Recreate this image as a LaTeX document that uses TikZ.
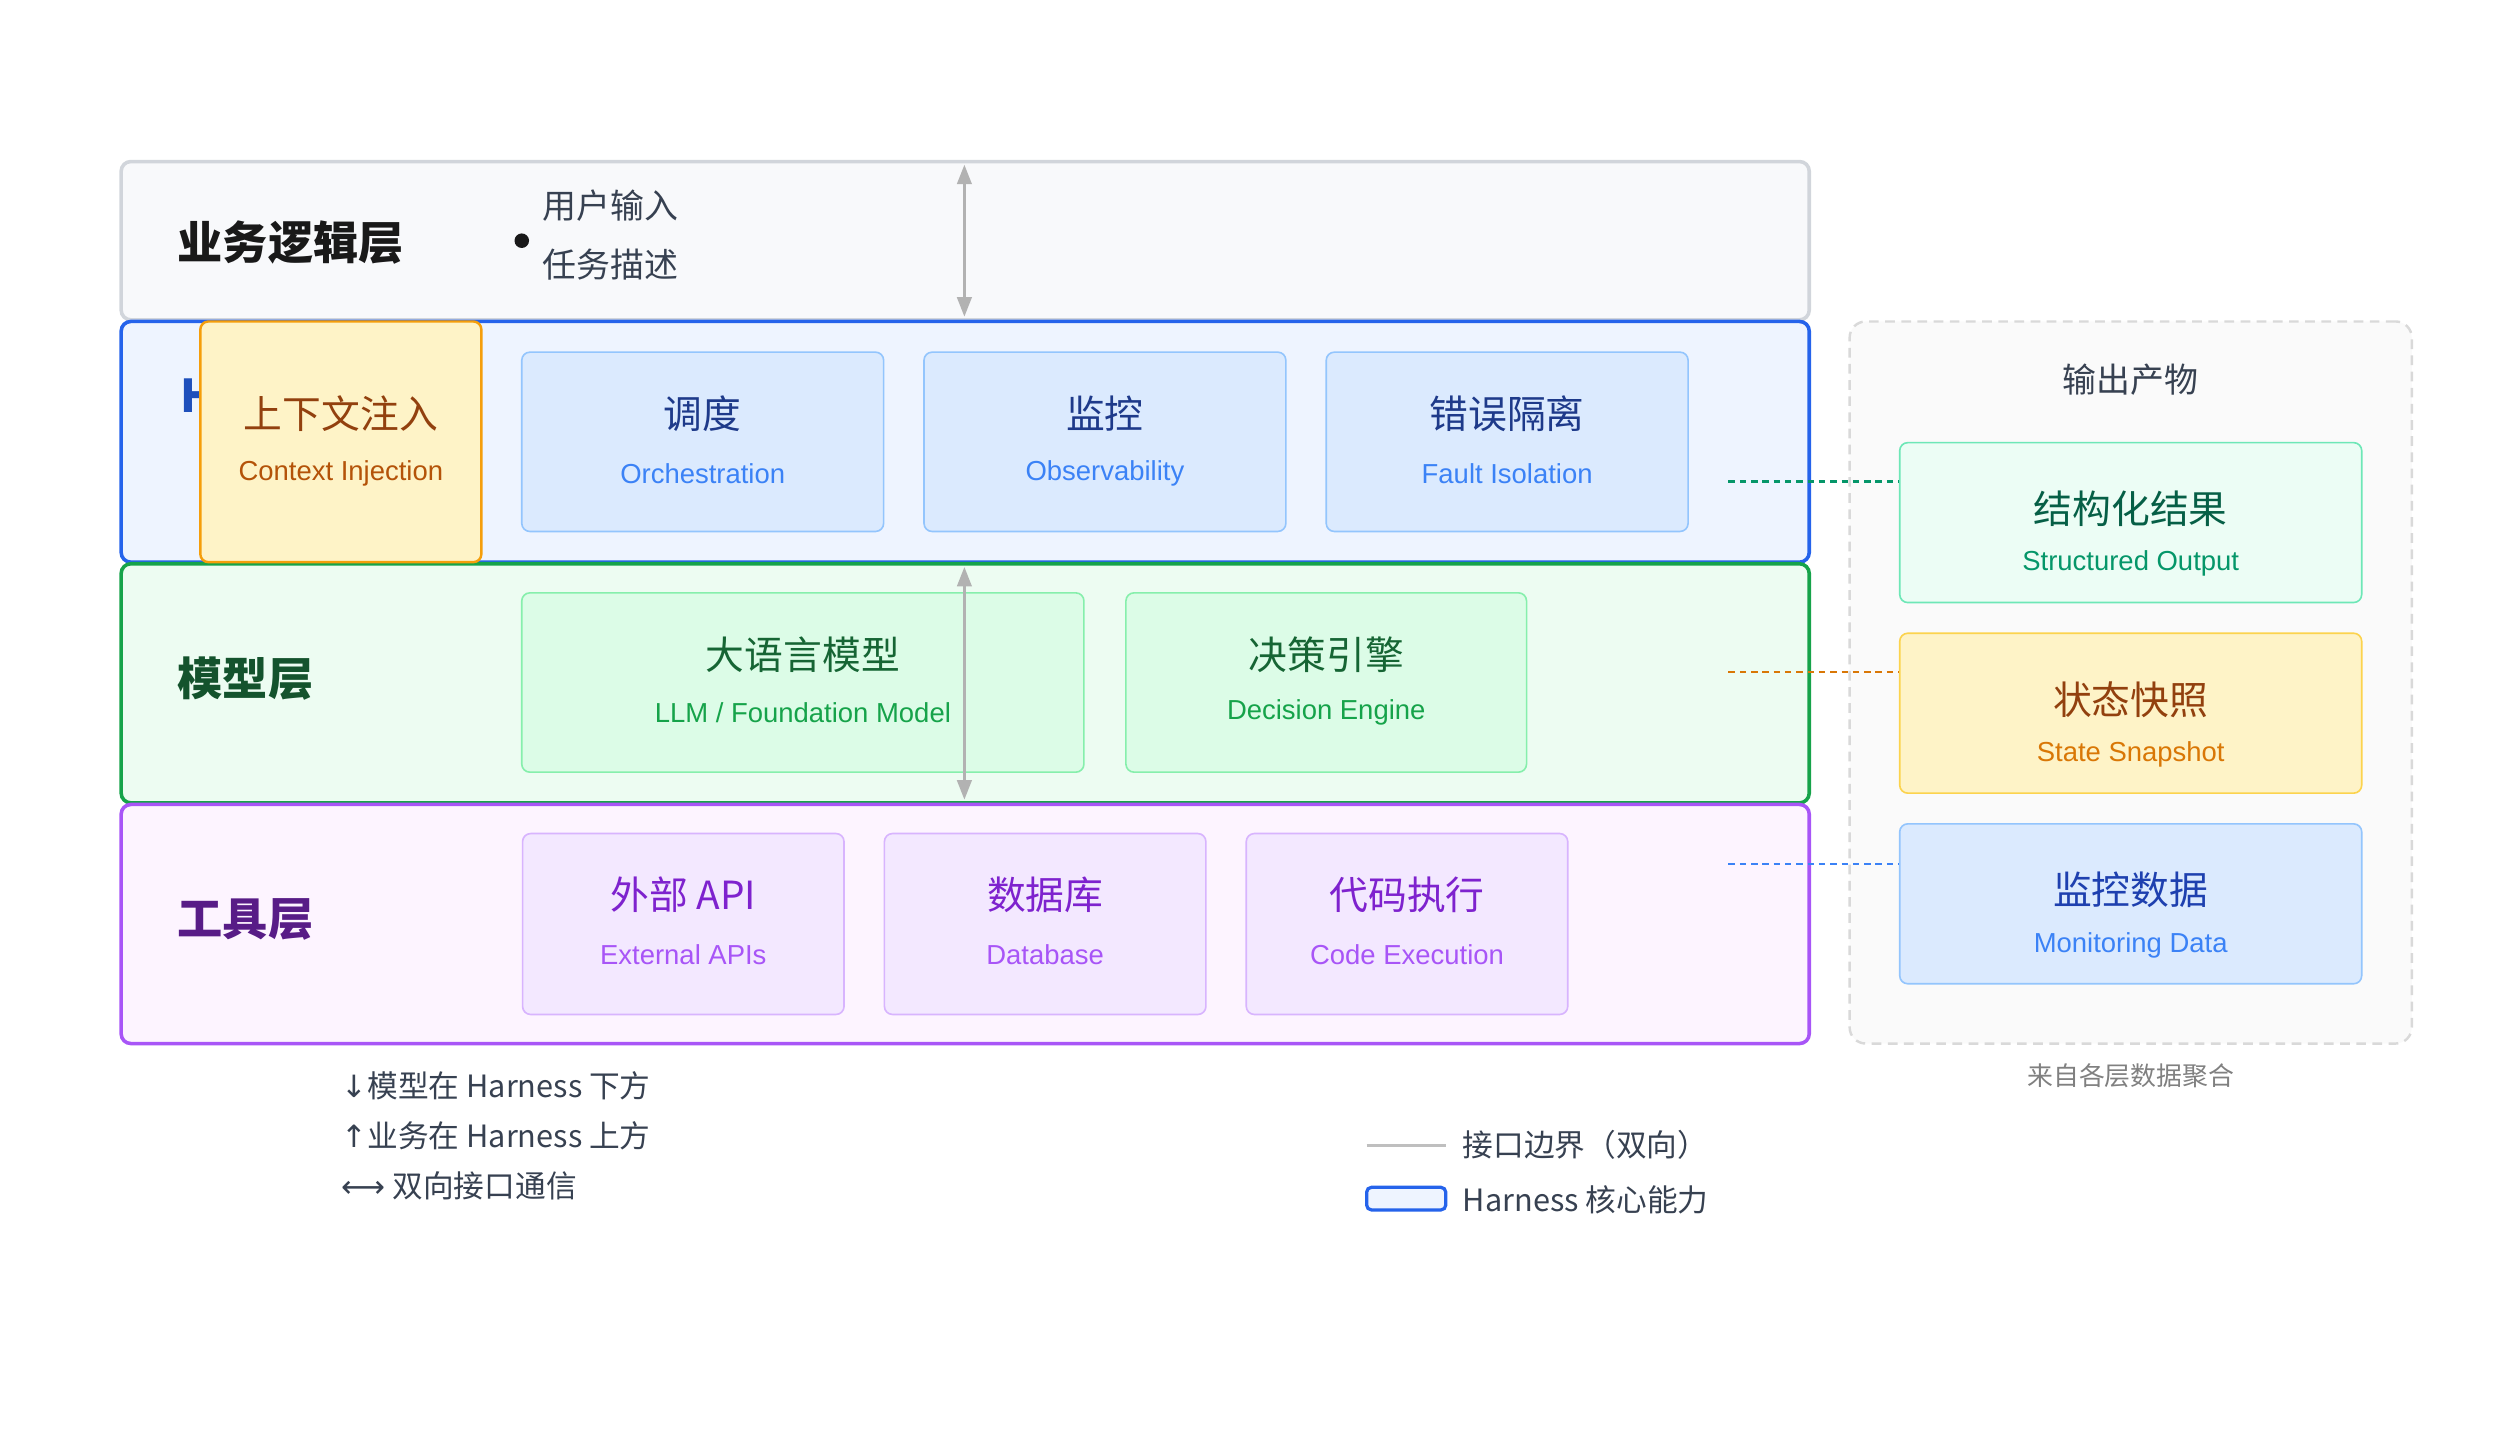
\documentclass[tikz,border=0pt]{standalone}
\usepackage{fontspec}
\setmainfont{Noto Sans CJK SC}
\newfontfamily\lat{Liberation Sans}
\newfontfamily\arrfont{DejaVu Sans}
\usetikzlibrary{arrows.meta}
\definecolor{bizF}{HTML}{F8F9FB}\definecolor{bizD}{HTML}{D1D5DB}
\definecolor{harF}{HTML}{EEF4FF}\definecolor{harD}{HTML}{2563EB}
\definecolor{modF}{HTML}{EDFCF2}\definecolor{modD}{HTML}{16A34A}
\definecolor{toolF}{HTML}{FDF4FF}\definecolor{toolD}{HTML}{A855F7}
\definecolor{txt}{HTML}{374151}
\tikzset{
 layer/.style={rounded corners=6pt,line width=2.2pt},
 box/.style={rounded corners=5pt,line width=1pt},
 ttl/.style={font=\fontsize{24}{28}\selectfont,anchor=center},
 sub/.style={font=\lat\fontsize{17}{20}\selectfont,anchor=center},
 lt/.style={font=\bfseries\fontsize{28}{32}\selectfont,anchor=center},
 leg/.style={font=\fontsize{19}{22}\selectfont,text=txt,anchor=west},
 garr/.style={draw=gray!60,line width=1.5pt,{Triangle[length=12pt,width=9pt,fill=gray!60]}-{Triangle[length=12pt,width=9pt,fill=gray!60]}},
 conn/.style={line width=1.5pt,dash pattern=on 4pt off 3pt}
}
\begin{document}
\begin{tikzpicture}[x=1pt,y=-1pt]
\useasboundingbox (0,0) rectangle (1560,891);
% layers
\path[layer,fill=bizF,draw=bizD] (75,100) rectangle (1120,198);
\path[layer,fill=harF,draw=harD] (75,199) rectangle (1120,348);
\path[layer,fill=modF,draw=modD] (75,349) rectangle (1120,497);
\path[layer,fill=toolF,draw=toolD] (75,498) rectangle (1120,646);
% business
\node[lt,text=black!90] (biz) at (180,150) {业务逻辑层};
\fill[black!90] (323,149) circle (4.5pt);
\node[font=\fontsize{21}{24}\selectfont,text=txt] (u1) at (378,127) {用户输入};
\node[font=\fontsize{21}{24}\selectfont,text=txt] (u2) at (378,164) {任务描述};
\coordinate (a1) at (597,102); \coordinate (a2) at (597,196);
\draw[garr] (a1) -- (a2);
% harness
\node[font=\bfseries\fontsize{28}{32}\selectfont,text=harD!80!black,anchor=west] (hl) at (108,245) {H};
\node[box,fill={rgb,255:red,254;green,243;blue,199},draw={rgb,255:red,245;green,158;blue,11},line width=1.5pt,minimum width=174pt,minimum height=149pt] (ctx) at (211,273.5) {};
\node[ttl,text={rgb,255:red,146;green,64;blue,14}] at (211,256) {上下文注入};
\node[sub,text={rgb,255:red,180;green,83;blue,9}] at (211,293) {Context Injection};
\foreach \x/\a/\b/\n in {435/调度/Orchestration/h1,684/监控/Observability/h2,933/错误隔离/Fault Isolation/h3}{
 \node[box,fill={rgb,255:red,219;green,234;blue,254},draw={rgb,255:red,147;green,197;blue,253},minimum width=224pt,minimum height=111pt] (\n) at (\x,273.5) {};
 \node[ttl,text={rgb,255:red,30;green,58;blue,138}] at (\x,256) {\a};
 \node[sub,text={rgb,255:red,59;green,130;blue,246}] at (\x,293) {\b};
}
% model
\node[lt,text={rgb,255:red,20;green,83;blue,45}] (mod) at (152,420) {模型层};
\node[box,fill={rgb,255:red,220;green,252;blue,231},draw={rgb,255:red,134;green,239;blue,172},minimum width=348pt,minimum height=111pt] (m1) at (497,422.5) {};
\node[ttl,text={rgb,255:red,22;green,101;blue,52}] at (497,405) {大语言模型};
\node[sub,text={rgb,255:red,22;green,163;blue,74}] at (497,441) {LLM / Foundation Model};
\node[box,fill={rgb,255:red,220;green,252;blue,231},draw={rgb,255:red,134;green,239;blue,172},minimum width=248pt,minimum height=111pt] (m2) at (821,422.5) {};
\node[ttl,text={rgb,255:red,22;green,101;blue,52}] at (821,405) {决策引擎};
\node[sub,text={rgb,255:red,22;green,163;blue,74}] at (821,441) {Decision Engine};
\coordinate (b1) at (597,351); \coordinate (b2) at (597,495);
\draw[garr] (b1) -- (b2);
% tools
\node[lt,text={rgb,255:red,88;green,28;blue,135}] (tl) at (152,569) {工具层};
\foreach \x/\a/\b/\n in {423/外部 API/External APIs/t1,647/数据库/Database/t2,871/代码执行/Code Execution/t3}{
 \node[box,fill={rgb,255:red,243;green,232;blue,255},draw={rgb,255:red,216;green,180;blue,254},minimum width=199pt,minimum height=112pt] (\n) at (\x,572) {};
 \node[ttl,text={rgb,255:red,126;green,34;blue,206}] at (\x,554) {\a};
 \node[sub,text={rgb,255:red,168;green,85;blue,247}] at (\x,591) {\b};
}
% right panel
\node[rounded corners=10pt,fill={rgb,255:red,250;green,250;blue,250},draw=gray!30,line width=1.5pt,dash pattern=on 6pt off 4pt,minimum width=348pt,minimum height=447pt] (panel) at (1319,422.5) {};
\node[font=\fontsize{21}{24}\selectfont,text=txt] at (1319,235) {输出产物};
\node[box,fill={rgb,255:red,236;green,253;blue,245},draw={rgb,255:red,110;green,231;blue,183},minimum width=286pt,minimum height=99pt] (o1) at (1319,323.5) {};
\node[ttl,text={rgb,255:red,6;green,95;blue,70}] at (1319,315) {结构化结果};
\node[sub,text={rgb,255:red,5;green,150;blue,105}] at (1319,349) {Structured Output};
\node[box,fill={rgb,255:red,254;green,243;blue,199},draw={rgb,255:red,252;green,211;blue,77},minimum width=286pt,minimum height=99pt] (o2) at (1319,441.5) {};
\node[ttl,text={rgb,255:red,146;green,64;blue,14}] at (1319,433) {状态快照};
\node[sub,text={rgb,255:red,217;green,119;blue,6}] at (1319,467) {State Snapshot};
\node[box,fill={rgb,255:red,219;green,234;blue,254},draw={rgb,255:red,147;green,197;blue,253},minimum width=286pt,minimum height=99pt] (o3) at (1319,559.5) {};
\node[ttl,text={rgb,255:red,30;green,64;blue,175}] at (1319,551) {监控数据};
\node[sub,text={rgb,255:red,59;green,130;blue,246}] at (1319,585) {Monitoring Data};
\node[font=\fontsize{16}{19}\selectfont,text=gray] at (1319,666) {来自各层数据聚合};
% connectors
\coordinate (c1) at (1070,298); \coordinate (c2) at (1070,416); \coordinate (c3) at (1070,535);
\draw[conn,draw={rgb,255:red,5;green,150;blue,105}] (c1) -- (c1 -| o1.west);
\draw[conn,draw={rgb,255:red,217;green,119;blue,6}] (c2) -- (c2 -| o2.west);
\draw[conn,draw={rgb,255:red,59;green,130;blue,246}] (c3) -- (c3 -| o3.west);
% legend
\node[leg] at (208,672) {{\arrfont ↓}模型在 Harness 下方};
\node[leg] at (208,703) {{\arrfont ↑}业务在 Harness 上方};
\node[leg] at (208,734) {{\arrfont ⟷} 双向接口通信};
\coordinate (l1) at (846,709); \coordinate (l2) at (895,709);
\draw[gray!50,line width=2pt] (l1) -- (l2);
\node[leg] at (902,709) {接口边界（双向）};
\path[rounded corners=3pt,fill=harF,draw=harD,line width=2pt] (846,735) rectangle (895,749);
\node[leg] at (902,743) {Harness 核心能力};
\end{tikzpicture}
\end{document}
